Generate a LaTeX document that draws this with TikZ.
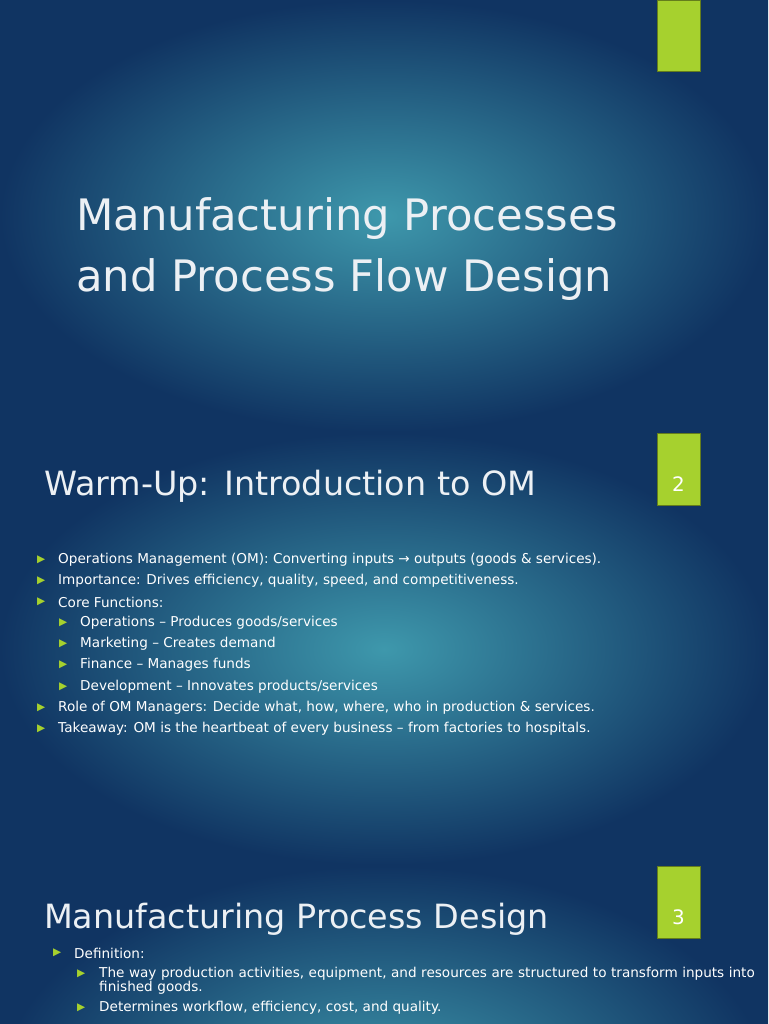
\documentclass[tikz,border=0pt]{standalone}
\usepackage{fontspec}
\setmainfont{DejaVu Sans}
\usetikzlibrary{positioning}
\definecolor{slidemid}{RGB}{62,152,172}
\definecolor{slideedge}{RGB}{16,52,98}
\definecolor{tabgreen}{RGB}{166,209,46}
\definecolor{titlegrey}{RGB}{236,240,244}
\newcommand{\bl}{\textcolor{tabgreen}{\fontsize{9}{9}\selectfont▶}}
\begin{document}
\begin{tikzpicture}[x=0.3mm,y=-0.3mm,
    tab/.style={fill=tabgreen, draw=tabgreen!60!black, line width=0.3pt},
    tabnum/.style={text=white, font=\fontsize{17}{17}\selectfont},
    slidetitle/.style={anchor=west, text=titlegrey, font=\fontsize{28.5}{40}\selectfont, align=left},
    item/.style={anchor=west, text=white, font=\fontsize{11.6}{12}\selectfont, inner sep=0pt, align=left},
    bullet/.style={anchor=west, inner sep=0pt}
]
\useasboundingbox (0,0) rectangle (768,1024);

% Slide backgrounds
\shade[inner color=slidemid, outer color=slideedge] (0,0) rectangle (768,432);
\shade[inner color=slidemid, outer color=slideedge] (0,433) rectangle (768,865);
\shade[inner color=slidemid, outer color=slideedge] (0,866) rectangle (768,1310);
\fill[slideedge] (0,432) rectangle (768,433);
\fill[slideedge] (0,865) rectangle (768,866);

% Slide 1
\draw[tab] (657,0) rectangle (700,71);
\node[slidetitle, font=\fontsize{37}{52}\selectfont] (title1) at (72,249) {Manufacturing Processes\\and Process Flow Design};

% Slide 2
\draw[tab] (657,433) rectangle (700,505);
\node[tabnum] (num2) at (678.5,484) {2};
\node[slidetitle] (title2) at (40,486) {Warm-Up: Introduction to OM};

\foreach \y/\lvl/\txt in {
    560/0/{Operations Management (OM): Converting inputs → outputs (goods \& services).},
    581/0/{Importance: Drives efficiency, quality, speed, and competitiveness.},
    602/0/{Core Functions:},
    623/1/{Operations – Produces goods/services},
    644/1/{Marketing – Creates demand},
    665/1/{Finance – Manages funds},
    687/1/{Development – Innovates products/services},
    708/0/{Role of OM Managers: Decide what, how, where, who in production \& services.},
    729/0/{Takeaway: OM is the heartbeat of every business – from factories to hospitals.}} {
    \node[bullet] (b\y) at (37+22*\lvl,\y) {\bl};
    \node[item] (t\y) at (58+22*\lvl,\y) {\txt};
}

% Slide 3
\draw[tab] (657,866) rectangle (700,938);
\node[tabnum] (num3) at (678.5,917) {3};
\node[slidetitle] (title3) at (40,919) {Manufacturing Process Design};

\node[bullet] (b953) at (53,953) {\bl};
\node[item] (t953) at (74,953) {Definition:};
\node[bullet] (b974) at (77,974) {\bl};
\node[item, anchor=north west, text width=600pt, font=\fontsize{11.6}{11}\selectfont] (t974) at (99,967)
    {The way production activities, equipment, and resources are structured to transform inputs into\\finished goods.};
\node[bullet] (b1008) at (77,1008) {\bl};
\node[item] (t1008) at (99,1008) {Determines workflow, efficiency, cost, and quality.};
\end{tikzpicture}
\end{document}
